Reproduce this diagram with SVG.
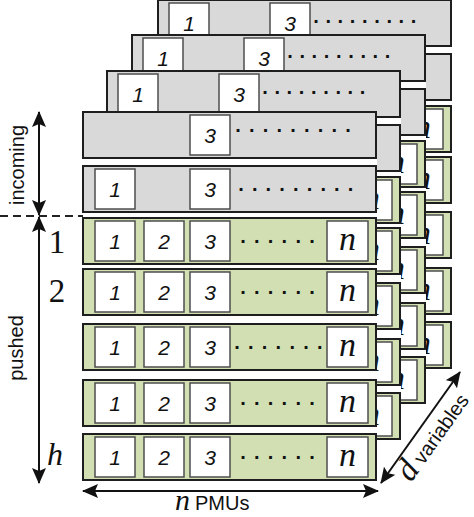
<svg xmlns="http://www.w3.org/2000/svg" width="474" height="517" viewBox="0 0 474 517">
<defs>
<style>
.rg{fill:#d1dfb2;stroke:#1e1e1e;stroke-width:2}
.rk{fill:#d9d9d9;stroke:#1e1e1e;stroke-width:2}
.bx{fill:#fff;stroke:#4d4d4d;stroke-width:1.5}
.bk{fill:#fff}
.num{font-family:"Liberation Sans",Arial,sans-serif;font-style:italic;font-size:21px;fill:#111;text-anchor:middle}
.nn{font-family:"Liberation Serif","Times New Roman",serif;font-style:italic;font-size:34px;fill:#111;text-anchor:middle}
.dots{font-family:"Liberation Sans",Arial,sans-serif;font-weight:bold;font-size:20px;fill:#111;text-anchor:middle}
.lbl{font-family:"Liberation Sans",Arial,sans-serif;font-size:20px;fill:#111}
.ser{font-family:"Liberation Serif","Times New Roman",serif;fill:#111}
.ln{stroke:#111;stroke-width:2;fill:none}
.dash{stroke:#222;stroke-width:2;fill:none;stroke-dasharray:8 5}
</style>
<marker id="ah" viewBox="0 0 16 14" refX="15" refY="7" markerWidth="16" markerHeight="14" markerUnits="userSpaceOnUse" orient="auto-start-reverse">
<path d="M0,0 L16,7 L0,14 L3,7 Z" fill="#111"/>
</marker>
<g id="gRow6">
<rect class="rg" width="293" height="46"/>
<rect class="bx" x="12" y="3" width="40" height="40"/>
<rect class="bx" x="61" y="3" width="40" height="40"/>
<rect class="bx" x="107" y="3" width="40" height="40"/>
<rect class="bx" x="244" y="3" width="41" height="40"/>
<text class="num" x="32" y="31">1</text>
<text class="num" x="81" y="31">2</text>
<text class="num" x="127" y="31">3</text>
<text class="nn" x="264.5" y="32">n</text>
<text class="dots" x="160 173.8 187.6 201.4 215.2 229" y="24.5">......</text>
</g>
<g id="gRow7">
<rect class="rg" width="293" height="46"/>
<rect class="bx" x="12" y="3" width="40" height="40"/>
<rect class="bx" x="61" y="3" width="40" height="40"/>
<rect class="bx" x="107" y="3" width="40" height="40"/>
<rect class="bx" x="244" y="3" width="41" height="40"/>
<text class="num" x="32" y="31">1</text>
<text class="num" x="81" y="31">2</text>
<text class="num" x="127" y="31">3</text>
<text class="nn" x="264.5" y="32">n</text>
<text class="dots" x="154 167.8 181.6 195.4 209.2 223 236.8" y="24.5">.......</text>
</g>
<g id="kFrontA">
<rect class="rk" width="293" height="46"/>
<rect class="bx" x="107" y="3" width="40" height="40"/>
<text class="num" x="127" y="31">3</text>
<text class="dots" x="155 168.75 182.5 196.25 210 223.75 237.5 251.25 265" y="19.5">.........</text>
</g>
<g id="kFrontB">
<rect class="rk" width="293" height="46"/>
<rect class="bx" x="12" y="3" width="40" height="40"/>
<rect class="bx" x="107" y="3" width="40" height="40"/>
<text class="num" x="32" y="31">1</text>
<text class="num" x="127" y="31">3</text>
<text class="dots" x="158 171.7 185.4 199.1 212.8 226.5 240.2 253.9 267.6" y="24.5">.........</text>
</g>
<g id="kBack">
<rect class="rk" width="293" height="46"/>
<rect class="bx" x="11" y="3" width="40" height="40"/>
<rect class="bx" x="112" y="3" width="40" height="40"/>
<text class="num" x="31" y="31">1</text>
<text class="num" x="132" y="31">3</text>
<text class="dots" x="158 170.2 182.4 194.6 206.8 219 231.2 243.4 255.6" y="22.5">.........</text>
</g>
</defs>

<g id="layer-4" transform="translate(158,0)">
<rect class="bk" x="-1" y="-1" width="295" height="370"/>
<use href="#kBack" y="0"/>
<use href="#kBack" y="54"/>
<use href="#gRow6" y="106"/>
<use href="#gRow6" y="157"/>
<use href="#gRow6" y="212"/>
<use href="#gRow6" y="268"/>
<use href="#gRow6" y="322"/>
</g>
<g id="layer-3" transform="translate(132,35)">
<rect class="bk" x="-1" y="-1" width="295" height="370"/>
<use href="#kBack" y="0"/>
<use href="#kBack" y="54"/>
<use href="#gRow6" y="106"/>
<use href="#gRow6" y="157"/>
<use href="#gRow6" y="212"/>
<use href="#gRow6" y="268"/>
<use href="#gRow6" y="322"/>
</g>
<g id="layer-2" transform="translate(107,71)">
<rect class="bk" x="-1" y="-1" width="295" height="370"/>
<use href="#kBack" y="0"/>
<use href="#kBack" y="54"/>
<use href="#gRow6" y="106"/>
<use href="#gRow6" y="157"/>
<use href="#gRow6" y="212"/>
<use href="#gRow6" y="268"/>
<use href="#gRow6" y="322"/>
</g>
<g id="layer-1" transform="translate(83,112)">
<rect class="bk" x="-1" y="-1" width="295" height="370"/>
<g id="row-incoming-a"><use href="#kFrontA" y="0"/></g>
<g id="row-incoming-b"><use href="#kFrontB" y="54"/></g>
<g id="row-pushed-1"><use href="#gRow6" y="106"/></g>
<g id="row-pushed-2"><use href="#gRow6" y="157"/></g>
<g id="row-pushed-3"><use href="#gRow7" y="212"/></g>
<g id="row-pushed-4"><use href="#gRow6" y="268"/></g>
<g id="row-pushed-h"><use href="#gRow6" y="322"/></g>
</g>

<g id="connectors">
<line class="dash" x1="0" y1="216" x2="83" y2="216"/>
<line class="ln" x1="39" y1="112" x2="39" y2="215" marker-start="url(#ah)" marker-end="url(#ah)"/>
<line class="ln" x1="39" y1="217" x2="39" y2="483" marker-start="url(#ah)" marker-end="url(#ah)"/>
<line class="ln" x1="83" y1="491" x2="378" y2="491" marker-start="url(#ah)" marker-end="url(#ah)"/>
<line class="ln" x1="381" y1="483" x2="460" y2="372" marker-start="url(#ah)" marker-end="url(#ah)"/>
</g>

<g id="labels">
<text class="lbl" transform="translate(24,165) rotate(-90)" text-anchor="middle">incoming</text>
<text class="lbl" transform="translate(23,348) rotate(-90)" text-anchor="middle">pushed</text>
<text class="ser" x="57" y="253" font-size="33" text-anchor="middle">1</text>
<text class="ser" x="57" y="302" font-size="33" text-anchor="middle">2</text>
<text class="ser" x="47" y="465" font-size="32" font-style="italic">h</text>
<text x="175" y="510"><tspan class="ser" font-size="30" font-style="italic">n</tspan><tspan class="lbl" dx="5">PMUs</tspan></text>
<text transform="translate(411,483) rotate(-54.6)"><tspan class="ser" font-size="33" font-style="italic">d</tspan><tspan class="lbl" dx="5" font-size="18">variables</tspan></text>
</g>
</svg>
